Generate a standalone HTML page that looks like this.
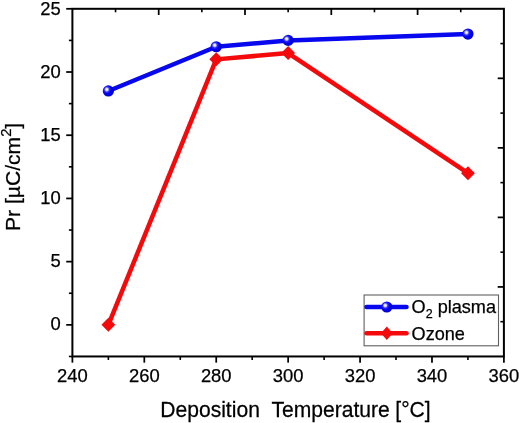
<!DOCTYPE html>
<html><head><meta charset="utf-8"><title>Pr vs Deposition Temperature</title>
<style>
html,body{margin:0;padding:0;background:#fff;}
body{width:520px;height:423px;overflow:hidden;}
svg{display:block;}
text{font-family:"Liberation Sans",Arial,sans-serif;fill:#000;stroke:#000;stroke-width:0.25px;}
</style></head><body>
<svg width="520" height="423" viewBox="0 0 520 423">
<defs>
<radialGradient id="ball" cx="0.37" cy="0.37" r="0.65" fx="0.36" fy="0.36">
<stop offset="0" stop-color="#ffffff"/>
<stop offset="0.17" stop-color="#d6d6ff"/>
<stop offset="0.36" stop-color="#2c2cf6"/>
<stop offset="0.6" stop-color="#0202ee"/>
<stop offset="1" stop-color="#0000d2"/>
</radialGradient>
</defs>
<rect width="520" height="423" fill="#fff"/>

<rect x="72.40" y="8.80" width="431.50" height="347.66" stroke="#000" stroke-width="2" fill="none"/>
<g stroke="#000" stroke-width="1.75" fill="none" stroke-linecap="butt">
<path d="M66.20 324.85H72.40"/>
<path d="M66.20 261.64H72.40"/>
<path d="M66.20 198.43H72.40"/>
<path d="M66.20 135.22H72.40"/>
<path d="M66.20 72.01H72.40"/>
<path d="M66.20 8.80H72.40"/>
<path d="M72.40 356.46V362.66"/>
<path d="M144.32 356.46V362.66"/>
<path d="M216.23 356.46V362.66"/>
<path d="M288.15 356.46V362.66"/>
<path d="M360.07 356.46V362.66"/>
<path d="M431.98 356.46V362.66"/>
<path d="M503.90 356.46V362.66"/>
</g>
<g stroke="#000" stroke-width="1.6" fill="none">
<path d="M68.90 356.46H72.40"/>
<path d="M68.90 293.25H72.40"/>
<path d="M68.90 230.04H72.40"/>
<path d="M68.90 166.83H72.40"/>
<path d="M68.90 103.62H72.40"/>
<path d="M68.90 40.41H72.40"/>
<path d="M108.36 356.46V359.96"/>
<path d="M180.28 356.46V359.96"/>
<path d="M252.19 356.46V359.96"/>
<path d="M324.11 356.46V359.96"/>
<path d="M396.02 356.46V359.96"/>
<path d="M467.94 356.46V359.96"/>
<path d="M115.55 8.80V12.30"/>
<path d="M503.90 43.57H500.40"/>
<path d="M158.70 8.80V15.00" stroke-width="1.75"/>
<path d="M503.90 78.33H497.70" stroke-width="1.75"/>
<path d="M201.85 8.80V12.30"/>
<path d="M503.90 113.10H500.40"/>
<path d="M245.00 8.80V15.00" stroke-width="1.75"/>
<path d="M503.90 147.86H497.70" stroke-width="1.75"/>
<path d="M288.15 8.80V12.30"/>
<path d="M503.90 182.63H500.40"/>
<path d="M331.30 8.80V15.00" stroke-width="1.75"/>
<path d="M503.90 217.39H497.70" stroke-width="1.75"/>
<path d="M374.45 8.80V12.30"/>
<path d="M503.90 252.16H500.40"/>
<path d="M417.60 8.80V15.00" stroke-width="1.75"/>
<path d="M503.90 286.92H497.70" stroke-width="1.75"/>
<path d="M460.75 8.80V12.30"/>
<path d="M503.90 321.69H500.40"/>
</g>
<g font-size="18.4">
<text x="60.8" y="329.75" text-anchor="end">0</text>
<text x="60.8" y="266.81" text-anchor="end">5</text>
<text x="60.8" y="203.87" text-anchor="end">10</text>
<text x="60.8" y="140.93" text-anchor="end">15</text>
<text x="60.8" y="77.99" text-anchor="end">20</text>
<text x="60.8" y="15.05" text-anchor="end">25</text>
<text x="72.40" y="381.6" text-anchor="middle">240</text>
<text x="144.32" y="381.6" text-anchor="middle">260</text>
<text x="216.23" y="381.6" text-anchor="middle">280</text>
<text x="288.15" y="381.6" text-anchor="middle">300</text>
<text x="360.07" y="381.6" text-anchor="middle">320</text>
<text x="431.98" y="381.6" text-anchor="middle">340</text>
<text x="503.90" y="381.6" text-anchor="middle">360</text>
</g>
<g font-size="21.5"><text transform="translate(160.2 417.3) scale(0.9814 1)">Deposition</text><text transform="translate(271.4 417.3) scale(0.9814 1)">Temperature</text><text transform="translate(395.3 417.3) scale(0.9814 1)">[°C]</text></g>
<text transform="translate(19.9 176.9) rotate(-90)" font-size="21.1" text-anchor="middle">Pr [µC/cm<tspan font-size="14.8" dy="-9.2">2</tspan><tspan dy="9.2">]</tspan></text>
<path d="M108.36 324.85 L216.23 59.37 L288.15 53.05 L467.94 173.15" fill="none" stroke="#f50a0c" stroke-width="4.5" stroke-linejoin="round" stroke-linecap="round"/>
<path d="M108.36 317.85L115.26 324.85L108.36 331.85L101.46 324.85Z" fill="#f50a0c"/>
<path d="M216.23 52.37L223.13 59.37L216.23 66.37L209.33 59.37Z" fill="#f50a0c"/>
<path d="M288.15 46.05L295.05 53.05L288.15 60.05L281.25 53.05Z" fill="#f50a0c"/>
<path d="M467.94 166.15L474.84 173.15L467.94 180.15L461.04 173.15Z" fill="#f50a0c"/>
<path d="M108.36 90.97 L216.23 46.73 L288.15 40.41 L467.94 34.08" fill="none" stroke="#0808ee" stroke-width="4.5" stroke-linejoin="round" stroke-linecap="round"/>
<circle cx="108.36" cy="90.97" r="5.6" fill="url(#ball)"/>
<circle cx="216.23" cy="46.73" r="5.6" fill="url(#ball)"/>
<circle cx="288.15" cy="40.41" r="5.6" fill="url(#ball)"/>
<circle cx="467.94" cy="34.08" r="5.6" fill="url(#ball)"/>
<rect x="364.1" y="295" width="134.4" height="50.8" fill="#fff" stroke="#606060" stroke-width="1.1"/>
<path d="M366.5 307H406.5" stroke="#0808ee" stroke-width="4.5" stroke-linecap="round"/>
<circle cx="386.8" cy="307" r="5.6" fill="url(#ball)"/>
<path d="M366.5 333.2H406.5" stroke="#f50a0c" stroke-width="4.5" stroke-linecap="round"/>
<path d="M386.80 326.50L392.70 333.20L386.80 339.90L380.90 333.20Z" fill="#f50a0c"/>
<text x="411.6" y="312.6" font-size="18.1">O<tspan font-size="12.5" dy="5">2</tspan><tspan dy="-5"> plasma</tspan></text>
<text x="411.6" y="340.2" font-size="18.1">Ozone</text>
</svg></body></html>
